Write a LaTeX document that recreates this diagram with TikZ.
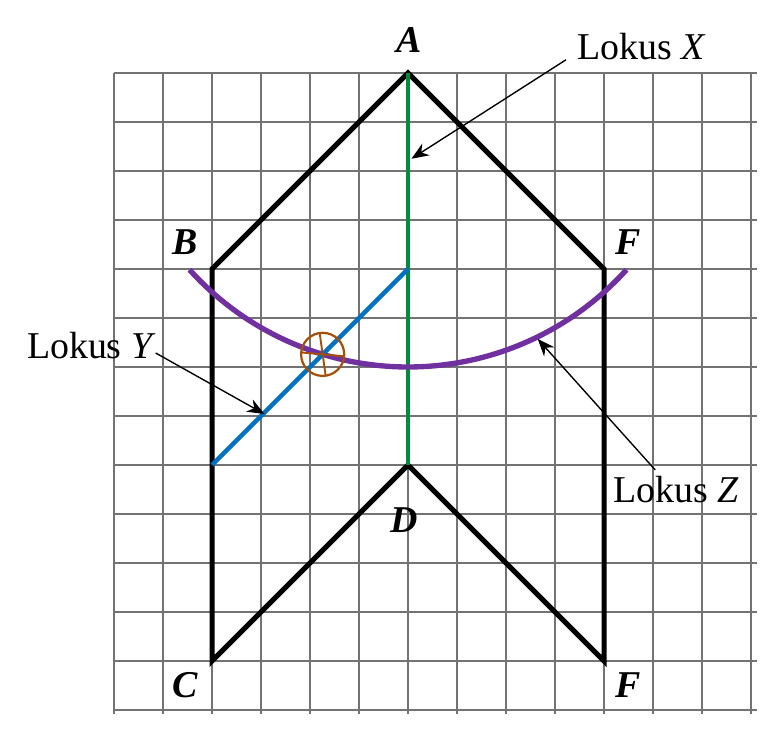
\documentclass[tikz,border=0pt]{standalone}
\usepackage{fontspec}
\setmainfont{Liberation Serif}
\usetikzlibrary{arrows.meta}
\definecolor{gridgray}{RGB}{115,115,115}
\definecolor{lokgreen}{RGB}{0,140,60}
\definecolor{lokblue}{RGB}{0,112,192}
\definecolor{lokpurple}{RGB}{112,48,160}
\definecolor{lokbrown}{RGB}{165,80,10}

\begin{document}
\begin{tikzpicture}[
        pt/.style = {font = {\fontsize{22}{26}\selectfont\bfseries\itshape}, black},
        lokus/.style = {font = {\fontsize{22}{26}\selectfont}, black},
        pointer/.style = {-{Stealth[length=10pt,width=8pt]}, line width=0.8pt}
    ]
        \useasboundingbox (-2.327,-0.429) rectangle (13.347,14.49);
        \draw[step=1cm, color=gridgray, line width=1.1pt] (0,-0.08) grid (13.12,13);

        % corners of the figure
        \coordinate (A) at (6,13);
        \coordinate (B) at (2,9);
        \coordinate (C) at (2,1);
        \coordinate (D) at (6,5);
        \coordinate (E) at (10,1);
        \coordinate (F) at (10,9);

        \draw[line width=2.9pt, line join=miter] (A) -- (B) -- (C) -- (D) -- (E) -- (F) -- cycle;

        % loci
        \draw[lokgreen, line width=2.4pt] (A) -- (D);
        \draw[lokpurple, line width=3.1pt] (A) ++(222:6) arc (222:318:6);
        \draw[lokblue, line width=2.6pt] (2,5) -- (B -| D);

        \coordinate (M) at (4.258,7.258);
        \draw[lokbrown, line width=1.3pt] (M) circle (0.44);
        \draw[lokbrown, line width=1.1pt] (M) ++(98:0.44) -- ++(278:0.88);
        \draw[lokbrown, line width=1.1pt] (M) ++(175:0.44) -- ++(355:0.88);

        \node[pt] (la) at (6.02,13.67) {A};
        \node[pt] (lb) at (1.45,9.55) {B};
        \node[pt] (lf) at (10.49,9.55) {F};
        \node[pt] (lc) at (1.45,0.51) {C};
        \node[pt] (ld) at (5.92,3.88) {D};
        \node[pt] (le) at (10.49,0.51) {F};

        \node[lokus, anchor=base west] (lx) at (9.33,13.27) {Lokus \textit{X}};
        \node[lokus, anchor=base west] (ly) at (-1.90,7.18) {Lokus \textit{Y}};
        \node[lokus, anchor=base west] (lz) at (10.06,4.24) {Lokus \textit{Z}};

        \coordinate (xt) at (6.07,11.25);
        \coordinate (yt) at (3.07,6.04);
        \path (A) ++(296:6.04) coordinate (zt);

        \draw[pointer] ([xshift=-3pt]lx.base west) -- (xt);
        \draw[pointer] ([shift={(-3.5pt,3pt)}]ly.base east) -- (yt);
        \draw[pointer] ([xshift=-12pt]lz.north) -- (zt);
    \end{tikzpicture}
\end{document}
